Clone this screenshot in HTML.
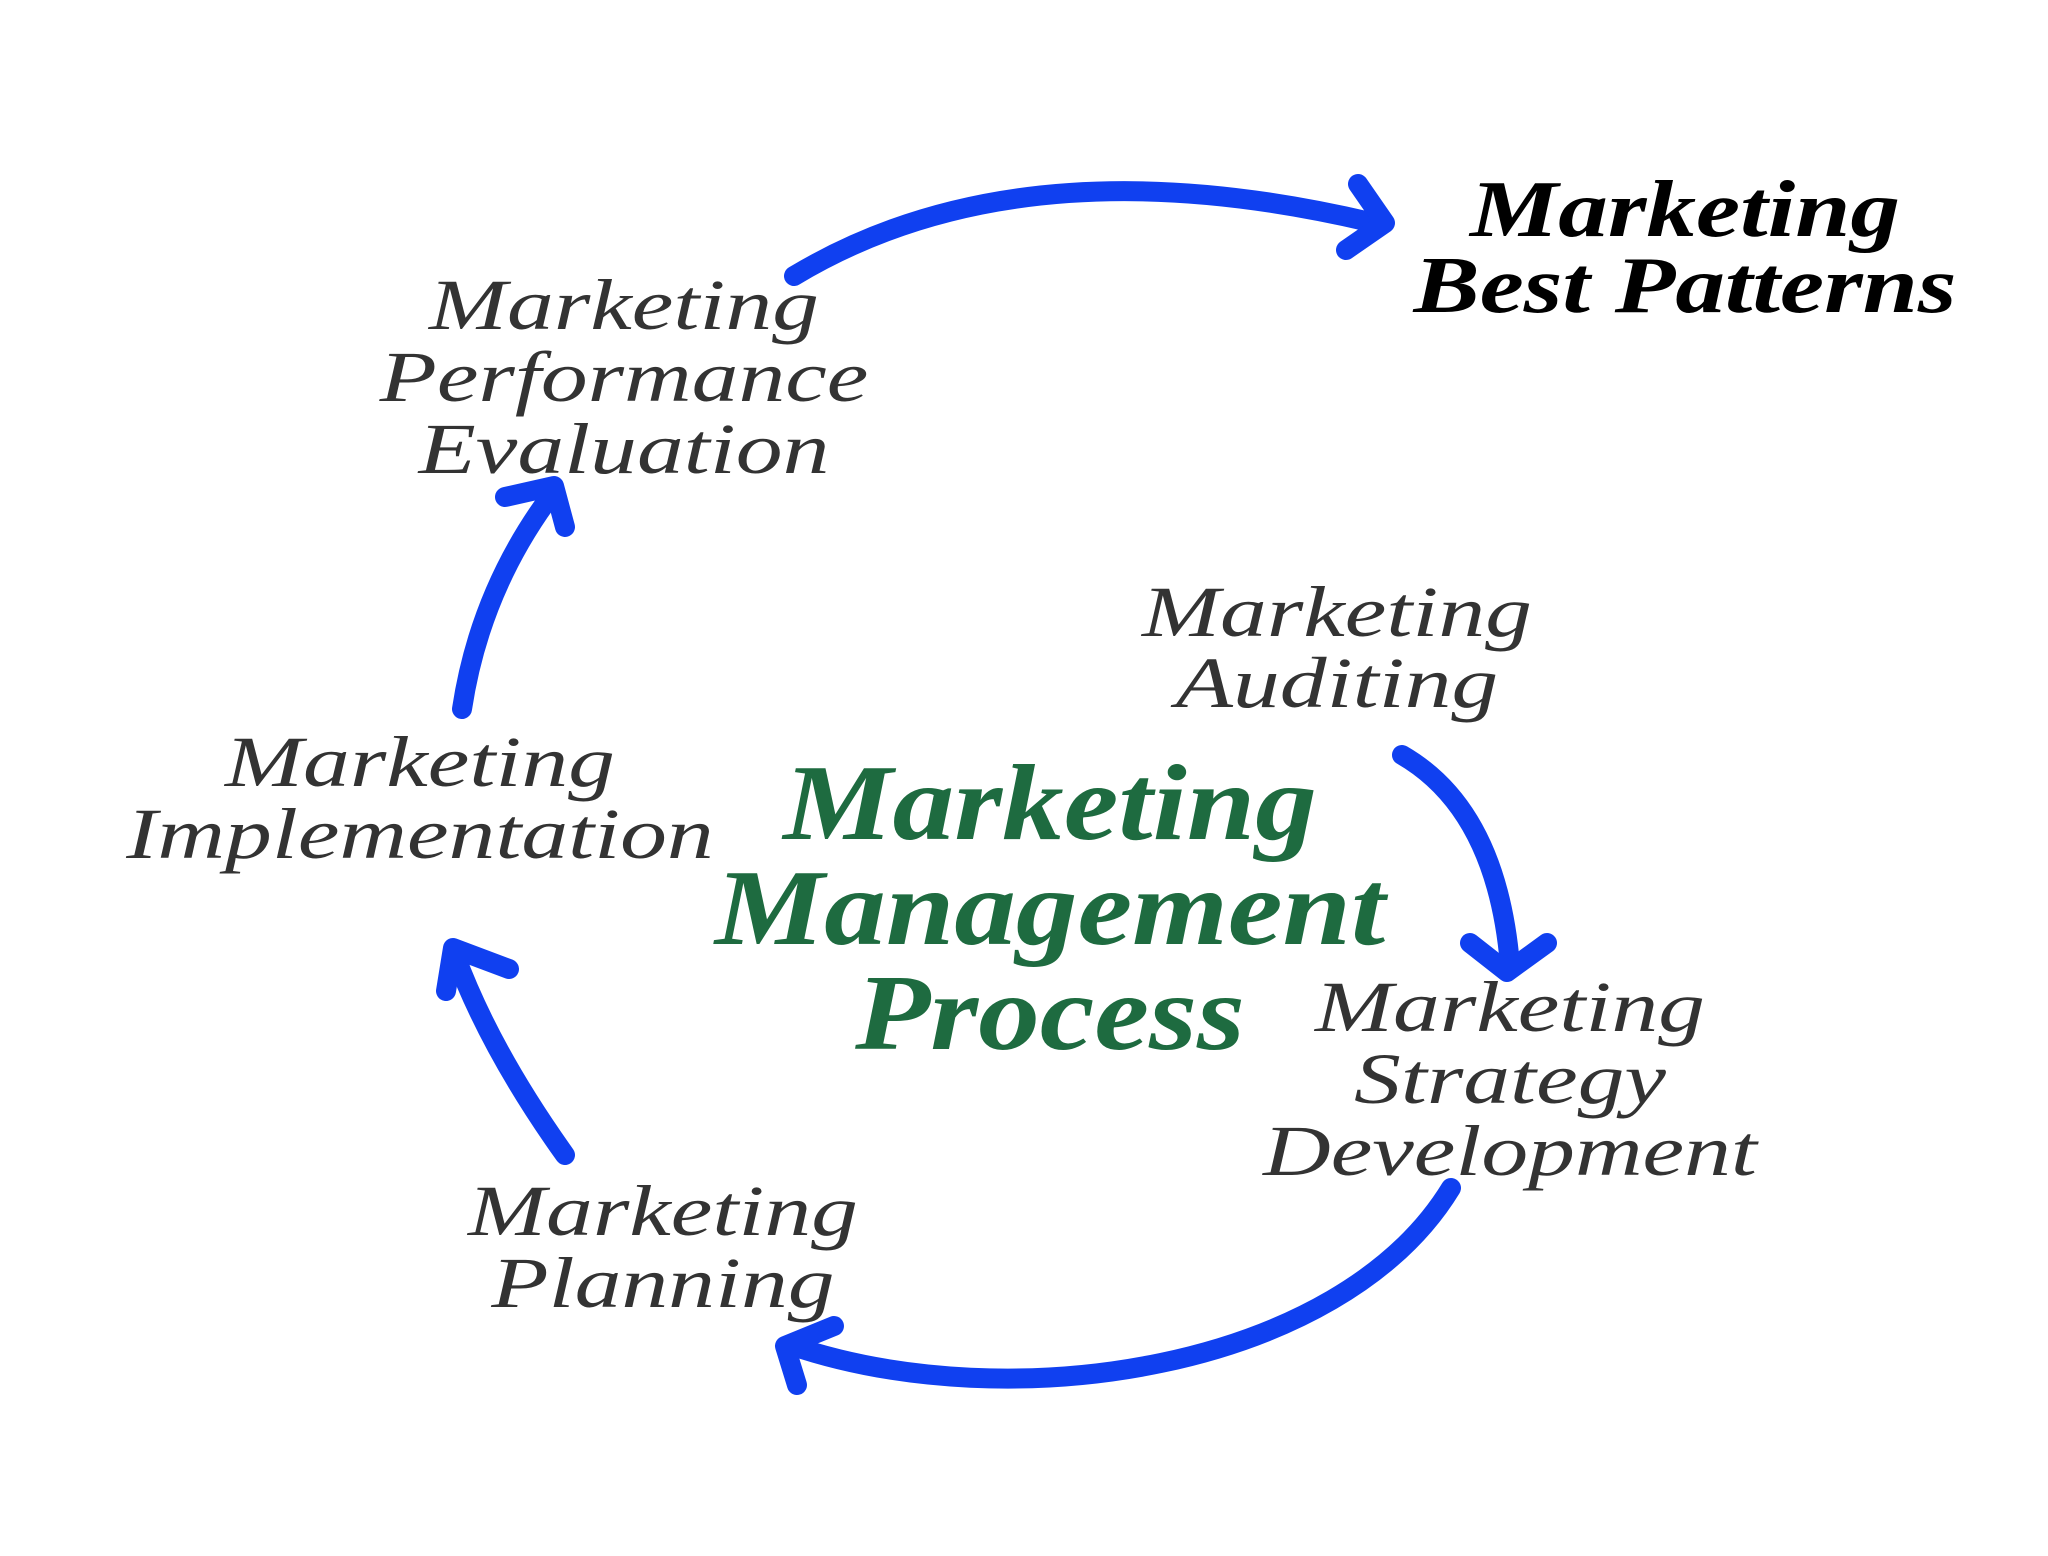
<!DOCTYPE html>
<html><head><meta charset="utf-8"><style>
html,body{margin:0;padding:0;background:#fff;}
#c{position:relative;width:2048px;height:1556px;overflow:hidden;background:#fff;}
.t{position:absolute;transform:translate(-50%,-50%) scaleX(1.3);white-space:nowrap;font-family:"Liberation Serif",serif;font-style:italic;color:#333;font-size:72px;line-height:1;}
.g{color:#1e6b40;font-size:108px;font-weight:bold;transform:translate(-50%,-50%) scaleX(1.14);}
.b{color:#000;font-size:80px;font-weight:bold;transform:translate(-50%,-50%) scaleX(1.24);}
svg{position:absolute;left:0;top:0;}
</style></head><body><div id="c">
<svg width="2048" height="1556" viewBox="0 0 2048 1556" fill="none" stroke="#1040f0" stroke-width="20" stroke-linecap="round" stroke-linejoin="round">
<path d="M794,276 Q1020,140 1370,222"/>
<path d="M1358,184 L1385,223 L1346,250"/>
<path d="M462,709 Q480,590 552,494"/>
<path d="M505,497 L554,486 L565,527"/>
<path d="M1402,755 Q1497,810 1510,965"/>
<path d="M1470,943 L1507,972 L1547,943"/>
<path d="M1451,1188 C1340,1370 1010,1420 790,1345"/>
<path d="M797,1385 L785,1346 L834,1326"/>
<path d="M565,1155 Q490,1050 455,955"/>
<path d="M446,991 L453,948 L509,969"/>
</svg>
<div class="t b" style="left:1685px;top:210px">Marketing</div>
<div class="t b" style="left:1685px;top:286px">Best Patterns</div>
<div class="t" style="left:624px;top:305px">Marketing</div>
<div class="t" style="left:624px;top:377px">Performance</div>
<div class="t" style="left:624px;top:449px">Evaluation</div>
<div class="t" style="left:1337px;top:612px">Marketing</div>
<div class="t" style="left:1337px;top:683px">Auditing</div>
<div class="t" style="left:420px;top:762px">Marketing</div>
<div class="t" style="left:420px;top:834px">Implementation</div>
<div class="t g" style="left:1050px;top:804px">Marketing</div>
<div class="t g" style="left:1050px;top:909px">Management</div>
<div class="t g" style="left:1050px;top:1014px">Process</div>
<div class="t" style="left:1510px;top:1007px">Marketing</div>
<div class="t" style="left:1510px;top:1079px">Strategy</div>
<div class="t" style="left:1510px;top:1151px">Development</div>
<div class="t" style="left:663px;top:1211px">Marketing</div>
<div class="t" style="left:663px;top:1283px">Planning</div>
</div></body></html>
